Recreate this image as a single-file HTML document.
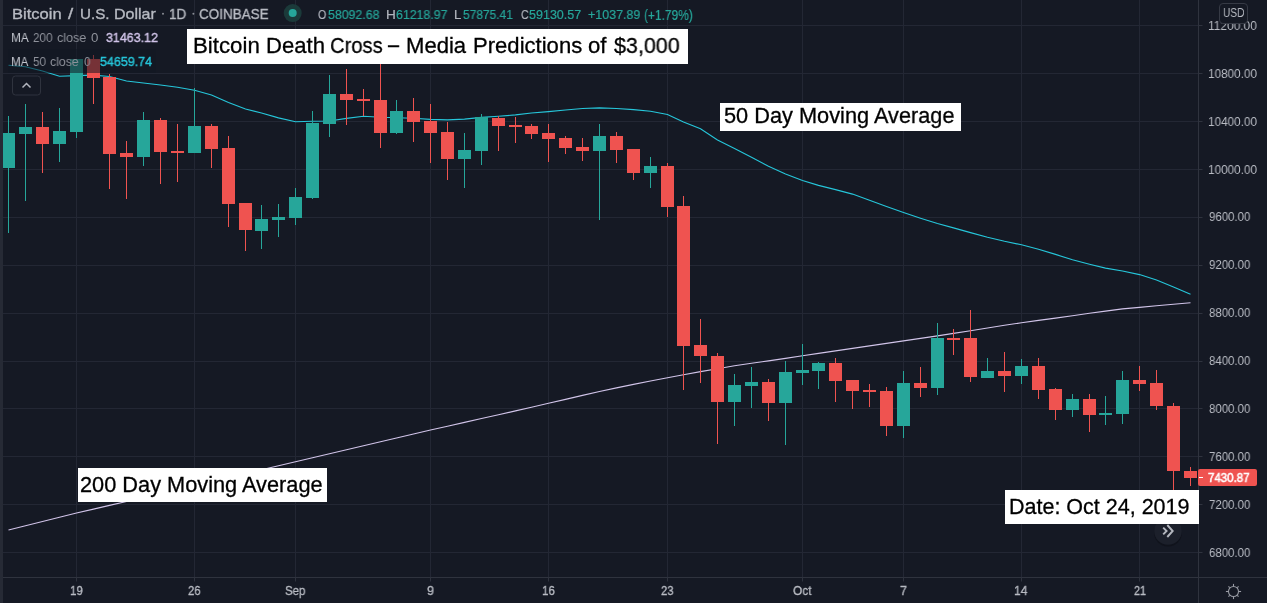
<!DOCTYPE html>
<html><head><meta charset="utf-8"><style>
html,body{margin:0;padding:0;}
body{width:1267px;height:603px;background:#151924;overflow:hidden;position:relative;font-family:"Liberation Sans",sans-serif;}
svg{position:absolute;left:0;top:0;}
.pl{position:absolute;left:1208px;font-size:12px;line-height:14px;color:#b2b5be;white-space:nowrap;}
.tl{position:absolute;top:584px;width:40px;text-align:center;font-size:12px;line-height:14px;color:#b2b5be;}
.leg{position:absolute;left:8px;white-space:nowrap;}
.legbg{position:absolute;background:rgba(19,23,34,0.55);}
.ann{position:absolute;background:#fff;color:#000;white-space:nowrap;}
.ann span{position:absolute;}
.tk{position:absolute;white-space:nowrap;transform-origin:0 0;will-change:transform;}
</style></head><body>
<svg width="1267" height="603" viewBox="0 0 1267 603">
<line x1="3" y1="25.5" x2="1198.5" y2="25.5" stroke="#232734" stroke-width="1"/>
<line x1="3" y1="73.5" x2="1198.5" y2="73.5" stroke="#232734" stroke-width="1"/>
<line x1="3" y1="121.5" x2="1198.5" y2="121.5" stroke="#232734" stroke-width="1"/>
<line x1="3" y1="169.5" x2="1198.5" y2="169.5" stroke="#232734" stroke-width="1"/>
<line x1="3" y1="217.5" x2="1198.5" y2="217.5" stroke="#232734" stroke-width="1"/>
<line x1="3" y1="265.5" x2="1198.5" y2="265.5" stroke="#232734" stroke-width="1"/>
<line x1="3" y1="313.5" x2="1198.5" y2="313.5" stroke="#232734" stroke-width="1"/>
<line x1="3" y1="361.5" x2="1198.5" y2="361.5" stroke="#232734" stroke-width="1"/>
<line x1="3" y1="408.5" x2="1198.5" y2="408.5" stroke="#232734" stroke-width="1"/>
<line x1="3" y1="456.5" x2="1198.5" y2="456.5" stroke="#232734" stroke-width="1"/>
<line x1="3" y1="504.5" x2="1198.5" y2="504.5" stroke="#232734" stroke-width="1"/>
<line x1="3" y1="552.5" x2="1198.5" y2="552.5" stroke="#232734" stroke-width="1"/>
<line x1="76.5" y1="0" x2="76.5" y2="577.5" stroke="#232734" stroke-width="1"/>
<line x1="194.5" y1="0" x2="194.5" y2="577.5" stroke="#232734" stroke-width="1"/>
<line x1="295.5" y1="0" x2="295.5" y2="577.5" stroke="#232734" stroke-width="1"/>
<line x1="430.5" y1="0" x2="430.5" y2="577.5" stroke="#232734" stroke-width="1"/>
<line x1="548.5" y1="0" x2="548.5" y2="577.5" stroke="#232734" stroke-width="1"/>
<line x1="667.5" y1="0" x2="667.5" y2="577.5" stroke="#232734" stroke-width="1"/>
<line x1="802.5" y1="0" x2="802.5" y2="577.5" stroke="#232734" stroke-width="1"/>
<line x1="903.5" y1="0" x2="903.5" y2="577.5" stroke="#232734" stroke-width="1"/>
<line x1="1021.5" y1="0" x2="1021.5" y2="577.5" stroke="#232734" stroke-width="1"/>
<line x1="1139.5" y1="0" x2="1139.5" y2="577.5" stroke="#232734" stroke-width="1"/>
<polyline points="8.5,530.0 25.5,525.8 42.5,521.5 59.5,517.2 76.5,513.0 93.5,509.1 109.5,505.4 126.5,501.5 143.5,497.5 160.5,493.5 177.5,489.5 194.5,485.5 211.5,481.5 228.5,477.5 245.5,473.5 261.5,469.8 278.5,465.8 295.5,461.8 312.5,457.8 329.5,453.8 346.5,449.8 363.5,445.8 380.5,441.8 396.5,438.0 413.5,434.0 430.5,430.0 447.5,426.2 464.5,422.4 481.5,418.5 498.5,414.7 515.5,410.9 531.5,407.2 548.5,403.3 565.5,399.4 582.5,395.4 599.5,391.5 616.5,387.9 633.5,384.4 650.5,381.0 667.5,377.8 683.5,374.7 700.5,371.6 717.5,368.7 734.5,365.7 751.5,363.3 768.5,360.9 785.5,358.4 802.5,355.8 818.5,353.4 835.5,350.9 852.5,348.4 869.5,345.9 886.5,343.4 903.5,340.9 920.5,338.4 937.5,335.9 953.5,333.4 970.5,330.7 987.5,328.0 1004.5,325.3 1021.5,322.8 1038.5,320.4 1055.5,318.1 1072.5,315.7 1089.5,313.3 1105.5,311.1 1122.5,308.9 1139.5,307.4 1156.5,305.8 1173.5,304.3 1190.5,302.8" fill="none" stroke="#d1c4e9" stroke-width="1.1"/>
<polyline points="8.5,65.2 25.5,66.7 42.5,71.0 59.5,76.2 76.5,75.6 93.5,75.1 109.5,76.5 126.5,81.0 143.5,83.0 160.5,85.0 177.5,87.3 194.5,90.2 211.5,95.0 228.5,102.5 245.5,109.0 261.5,113.0 278.5,117.9 295.5,121.8 312.5,121.3 329.5,121.0 346.5,118.4 363.5,116.3 380.5,117.3 396.5,117.7 413.5,118.2 430.5,119.4 447.5,119.9 464.5,119.1 481.5,117.4 498.5,116.3 515.5,114.9 531.5,113.0 548.5,111.6 565.5,110.0 582.5,108.5 599.5,107.9 616.5,108.5 633.5,109.6 650.5,111.3 667.5,114.5 683.5,122.0 700.5,128.8 717.5,139.9 734.5,148.4 751.5,157.3 768.5,166.2 785.5,174.1 802.5,180.5 818.5,185.4 835.5,189.6 852.5,194.1 869.5,200.2 886.5,206.5 903.5,212.5 920.5,218.2 937.5,223.5 953.5,227.9 970.5,232.6 987.5,237.3 1004.5,241.3 1021.5,244.8 1038.5,249.3 1055.5,254.4 1072.5,259.7 1089.5,264.2 1105.5,268.1 1122.5,271.0 1139.5,274.6 1156.5,280.1 1173.5,287.0 1190.5,294.3" fill="none" stroke="#26c6da" stroke-width="1.1"/>
<rect x="8" y="116" width="1" height="117" fill="#26a69a"/>
<rect x="2" y="133" width="13" height="35" fill="#26a69a"/>
<rect x="25" y="104" width="1" height="97" fill="#26a69a"/>
<rect x="19" y="127" width="13" height="7" fill="#26a69a"/>
<rect x="42" y="112" width="1" height="61" fill="#ef5350"/>
<rect x="36" y="127" width="13" height="17" fill="#ef5350"/>
<rect x="59" y="108" width="1" height="54" fill="#26a69a"/>
<rect x="53" y="131" width="13" height="13" fill="#26a69a"/>
<rect x="76" y="59" width="1" height="79" fill="#26a69a"/>
<rect x="70" y="59" width="13" height="73" fill="#26a69a"/>
<rect x="93" y="55" width="1" height="49" fill="#ef5350"/>
<rect x="87" y="59" width="13" height="19" fill="#ef5350"/>
<rect x="109" y="74" width="1" height="115" fill="#ef5350"/>
<rect x="103" y="77" width="13" height="77" fill="#ef5350"/>
<rect x="126" y="141" width="1" height="58" fill="#ef5350"/>
<rect x="120" y="153" width="13" height="4" fill="#ef5350"/>
<rect x="143" y="112" width="1" height="54" fill="#26a69a"/>
<rect x="137" y="120" width="13" height="37" fill="#26a69a"/>
<rect x="160" y="118" width="1" height="66" fill="#ef5350"/>
<rect x="154" y="120" width="13" height="32" fill="#ef5350"/>
<rect x="177" y="124" width="1" height="58" fill="#ef5350"/>
<rect x="171" y="151" width="13" height="2" fill="#ef5350"/>
<rect x="194" y="88" width="1" height="65" fill="#26a69a"/>
<rect x="188" y="126" width="13" height="27" fill="#26a69a"/>
<rect x="211" y="124" width="1" height="44" fill="#ef5350"/>
<rect x="205" y="126" width="13" height="23" fill="#ef5350"/>
<rect x="228" y="136" width="1" height="91" fill="#ef5350"/>
<rect x="222" y="148" width="13" height="56" fill="#ef5350"/>
<rect x="245" y="203" width="1" height="48" fill="#ef5350"/>
<rect x="239" y="203" width="13" height="27" fill="#ef5350"/>
<rect x="261" y="205" width="1" height="44" fill="#26a69a"/>
<rect x="255" y="219" width="13" height="12" fill="#26a69a"/>
<rect x="278" y="204" width="1" height="33" fill="#26a69a"/>
<rect x="272" y="217" width="13" height="3" fill="#26a69a"/>
<rect x="295" y="188" width="1" height="37" fill="#26a69a"/>
<rect x="289" y="197" width="13" height="21" fill="#26a69a"/>
<rect x="312" y="111" width="1" height="88" fill="#26a69a"/>
<rect x="306" y="123" width="13" height="75" fill="#26a69a"/>
<rect x="329" y="75" width="1" height="62" fill="#26a69a"/>
<rect x="323" y="94" width="13" height="30" fill="#26a69a"/>
<rect x="346" y="69" width="1" height="56" fill="#ef5350"/>
<rect x="340" y="94" width="13" height="6" fill="#ef5350"/>
<rect x="363" y="89" width="1" height="27" fill="#ef5350"/>
<rect x="357" y="99" width="13" height="2" fill="#ef5350"/>
<rect x="380" y="55" width="1" height="93" fill="#ef5350"/>
<rect x="374" y="100" width="13" height="33" fill="#ef5350"/>
<rect x="396" y="100" width="1" height="34" fill="#26a69a"/>
<rect x="390" y="111" width="13" height="22" fill="#26a69a"/>
<rect x="413" y="98" width="1" height="44" fill="#ef5350"/>
<rect x="407" y="111" width="13" height="11" fill="#ef5350"/>
<rect x="430" y="104" width="1" height="59" fill="#ef5350"/>
<rect x="424" y="121" width="13" height="12" fill="#ef5350"/>
<rect x="447" y="122" width="1" height="58" fill="#ef5350"/>
<rect x="441" y="132" width="13" height="27" fill="#ef5350"/>
<rect x="464" y="133" width="1" height="55" fill="#26a69a"/>
<rect x="458" y="150" width="13" height="9" fill="#26a69a"/>
<rect x="481" y="114" width="1" height="51" fill="#26a69a"/>
<rect x="475" y="117" width="13" height="34" fill="#26a69a"/>
<rect x="498" y="116" width="1" height="35" fill="#ef5350"/>
<rect x="492" y="118" width="13" height="8" fill="#ef5350"/>
<rect x="515" y="117" width="1" height="26" fill="#ef5350"/>
<rect x="509" y="125" width="13" height="2" fill="#ef5350"/>
<rect x="531" y="124" width="1" height="15" fill="#ef5350"/>
<rect x="525" y="126" width="13" height="8" fill="#ef5350"/>
<rect x="548" y="124" width="1" height="38" fill="#ef5350"/>
<rect x="542" y="133" width="13" height="6" fill="#ef5350"/>
<rect x="565" y="136" width="1" height="18" fill="#ef5350"/>
<rect x="559" y="138" width="13" height="10" fill="#ef5350"/>
<rect x="582" y="138" width="1" height="23" fill="#ef5350"/>
<rect x="576" y="147" width="13" height="4" fill="#ef5350"/>
<rect x="599" y="124" width="1" height="96" fill="#26a69a"/>
<rect x="593" y="136" width="13" height="15" fill="#26a69a"/>
<rect x="616" y="132" width="1" height="31" fill="#ef5350"/>
<rect x="610" y="136" width="13" height="14" fill="#ef5350"/>
<rect x="633" y="149" width="1" height="31" fill="#ef5350"/>
<rect x="627" y="149" width="13" height="24" fill="#ef5350"/>
<rect x="650" y="157" width="1" height="31" fill="#26a69a"/>
<rect x="644" y="166" width="13" height="7" fill="#26a69a"/>
<rect x="667" y="163" width="1" height="54" fill="#ef5350"/>
<rect x="661" y="166" width="13" height="41" fill="#ef5350"/>
<rect x="683" y="196" width="1" height="194" fill="#ef5350"/>
<rect x="677" y="206" width="13" height="140" fill="#ef5350"/>
<rect x="700" y="319" width="1" height="64" fill="#ef5350"/>
<rect x="694" y="345" width="13" height="11" fill="#ef5350"/>
<rect x="717" y="353" width="1" height="91" fill="#ef5350"/>
<rect x="711" y="356" width="13" height="46" fill="#ef5350"/>
<rect x="734" y="374" width="1" height="52" fill="#26a69a"/>
<rect x="728" y="385" width="13" height="17" fill="#26a69a"/>
<rect x="751" y="367" width="1" height="41" fill="#26a69a"/>
<rect x="745" y="382" width="13" height="4" fill="#26a69a"/>
<rect x="768" y="379" width="1" height="42" fill="#ef5350"/>
<rect x="762" y="382" width="13" height="21" fill="#ef5350"/>
<rect x="785" y="361" width="1" height="84" fill="#26a69a"/>
<rect x="779" y="372" width="13" height="31" fill="#26a69a"/>
<rect x="802" y="344" width="1" height="41" fill="#26a69a"/>
<rect x="796" y="370" width="13" height="3" fill="#26a69a"/>
<rect x="818" y="362" width="1" height="27" fill="#26a69a"/>
<rect x="812" y="363" width="13" height="8" fill="#26a69a"/>
<rect x="835" y="358" width="1" height="44" fill="#ef5350"/>
<rect x="829" y="363" width="13" height="18" fill="#ef5350"/>
<rect x="852" y="380" width="1" height="29" fill="#ef5350"/>
<rect x="846" y="380" width="13" height="11" fill="#ef5350"/>
<rect x="869" y="384" width="1" height="23" fill="#ef5350"/>
<rect x="863" y="390" width="13" height="2" fill="#ef5350"/>
<rect x="886" y="387" width="1" height="49" fill="#ef5350"/>
<rect x="880" y="391" width="13" height="35" fill="#ef5350"/>
<rect x="903" y="371" width="1" height="67" fill="#26a69a"/>
<rect x="897" y="383" width="13" height="43" fill="#26a69a"/>
<rect x="920" y="367" width="1" height="30" fill="#ef5350"/>
<rect x="914" y="383" width="13" height="5" fill="#ef5350"/>
<rect x="937" y="323" width="1" height="72" fill="#26a69a"/>
<rect x="931" y="338" width="13" height="50" fill="#26a69a"/>
<rect x="953" y="329" width="1" height="26" fill="#ef5350"/>
<rect x="947" y="338" width="13" height="2" fill="#ef5350"/>
<rect x="970" y="310" width="1" height="72" fill="#ef5350"/>
<rect x="964" y="338" width="13" height="39" fill="#ef5350"/>
<rect x="987" y="358" width="1" height="20" fill="#26a69a"/>
<rect x="981" y="371" width="13" height="7" fill="#26a69a"/>
<rect x="1004" y="352" width="1" height="40" fill="#ef5350"/>
<rect x="998" y="371" width="13" height="5" fill="#ef5350"/>
<rect x="1021" y="359" width="1" height="25" fill="#26a69a"/>
<rect x="1015" y="366" width="13" height="10" fill="#26a69a"/>
<rect x="1038" y="358" width="1" height="41" fill="#ef5350"/>
<rect x="1032" y="366" width="13" height="24" fill="#ef5350"/>
<rect x="1055" y="388" width="1" height="32" fill="#ef5350"/>
<rect x="1049" y="389" width="13" height="21" fill="#ef5350"/>
<rect x="1072" y="394" width="1" height="23" fill="#26a69a"/>
<rect x="1066" y="399" width="13" height="11" fill="#26a69a"/>
<rect x="1089" y="394" width="1" height="38" fill="#ef5350"/>
<rect x="1083" y="399" width="13" height="16" fill="#ef5350"/>
<rect x="1105" y="396" width="1" height="29" fill="#26a69a"/>
<rect x="1099" y="413" width="13" height="2" fill="#26a69a"/>
<rect x="1122" y="371" width="1" height="53" fill="#26a69a"/>
<rect x="1116" y="380" width="13" height="34" fill="#26a69a"/>
<rect x="1139" y="366" width="1" height="25" fill="#ef5350"/>
<rect x="1133" y="380" width="13" height="4" fill="#ef5350"/>
<rect x="1156" y="370" width="1" height="40" fill="#ef5350"/>
<rect x="1150" y="383" width="13" height="23" fill="#ef5350"/>
<rect x="1173" y="403" width="1" height="89" fill="#ef5350"/>
<rect x="1167" y="406" width="13" height="65" fill="#ef5350"/>
<rect x="1190" y="467" width="1" height="19" fill="#ef5350"/>
<rect x="1184" y="471" width="13" height="7" fill="#ef5350"/>
<rect x="0" y="0" width="3" height="603" fill="#262a35"/>
<line x1="1198.5" y1="0" x2="1198.5" y2="603" stroke="#2f333e" stroke-width="1"/>
<line x1="3" y1="577.5" x2="1267" y2="577.5" stroke="#2f333e" stroke-width="1"/>
<line x1="1198.5" y1="25.5" x2="1202.5" y2="25.5" stroke="#2f333e" stroke-width="1"/>
<line x1="1198.5" y1="73.5" x2="1202.5" y2="73.5" stroke="#2f333e" stroke-width="1"/>
<line x1="1198.5" y1="121.5" x2="1202.5" y2="121.5" stroke="#2f333e" stroke-width="1"/>
<line x1="1198.5" y1="169.5" x2="1202.5" y2="169.5" stroke="#2f333e" stroke-width="1"/>
<line x1="1198.5" y1="217.5" x2="1202.5" y2="217.5" stroke="#2f333e" stroke-width="1"/>
<line x1="1198.5" y1="265.5" x2="1202.5" y2="265.5" stroke="#2f333e" stroke-width="1"/>
<line x1="1198.5" y1="313.5" x2="1202.5" y2="313.5" stroke="#2f333e" stroke-width="1"/>
<line x1="1198.5" y1="361.5" x2="1202.5" y2="361.5" stroke="#2f333e" stroke-width="1"/>
<line x1="1198.5" y1="408.5" x2="1202.5" y2="408.5" stroke="#2f333e" stroke-width="1"/>
<line x1="1198.5" y1="456.5" x2="1202.5" y2="456.5" stroke="#2f333e" stroke-width="1"/>
<line x1="1198.5" y1="504.5" x2="1202.5" y2="504.5" stroke="#2f333e" stroke-width="1"/>
<line x1="1198.5" y1="552.5" x2="1202.5" y2="552.5" stroke="#2f333e" stroke-width="1"/>
<line x1="76.5" y1="577.5" x2="76.5" y2="581.5" stroke="#2f333e" stroke-width="1"/>
<line x1="194.5" y1="577.5" x2="194.5" y2="581.5" stroke="#2f333e" stroke-width="1"/>
<line x1="295.5" y1="577.5" x2="295.5" y2="581.5" stroke="#2f333e" stroke-width="1"/>
<line x1="430.5" y1="577.5" x2="430.5" y2="581.5" stroke="#2f333e" stroke-width="1"/>
<line x1="548.5" y1="577.5" x2="548.5" y2="581.5" stroke="#2f333e" stroke-width="1"/>
<line x1="667.5" y1="577.5" x2="667.5" y2="581.5" stroke="#2f333e" stroke-width="1"/>
<line x1="802.5" y1="577.5" x2="802.5" y2="581.5" stroke="#2f333e" stroke-width="1"/>
<line x1="903.5" y1="577.5" x2="903.5" y2="581.5" stroke="#2f333e" stroke-width="1"/>
<line x1="1021.5" y1="577.5" x2="1021.5" y2="581.5" stroke="#2f333e" stroke-width="1"/>
<line x1="1139.5" y1="577.5" x2="1139.5" y2="581.5" stroke="#2f333e" stroke-width="1"/>
<rect x="1198" y="469" width="59" height="17" rx="2" fill="#ef5350"/>
<line x1="1199" y1="477.5" x2="1203" y2="477.5" stroke="#fff" stroke-width="1"/>
<circle cx="1168" cy="532.5" r="14" fill="#0f121a" opacity="0.8"/>
<circle cx="1168" cy="531" r="13.8" fill="#1c202b"/>
<path d="M1163.2 527.6 L1166.6 531 L1163.2 534.4" fill="none" stroke="#b4b7bf" stroke-width="1.9"/>
<path d="M1167.3 525 L1172.7 531 L1167.3 537" fill="none" stroke="#b4b7bf" stroke-width="1.9"/>
<circle cx="1233.5" cy="591.5" r="5.0" fill="none" stroke="#9a9da6" stroke-width="1.05"/>
<line x1="1238.90" y1="591.50" x2="1241.10" y2="591.50" stroke="#9a9da6" stroke-width="1.1"/>
<line x1="1237.32" y1="595.32" x2="1238.52" y2="596.52" stroke="#9a9da6" stroke-width="1.1"/>
<line x1="1233.50" y1="596.90" x2="1233.50" y2="599.10" stroke="#9a9da6" stroke-width="1.1"/>
<line x1="1229.68" y1="595.32" x2="1228.48" y2="596.52" stroke="#9a9da6" stroke-width="1.1"/>
<line x1="1228.10" y1="591.50" x2="1225.90" y2="591.50" stroke="#9a9da6" stroke-width="1.1"/>
<line x1="1229.68" y1="587.68" x2="1228.48" y2="586.48" stroke="#9a9da6" stroke-width="1.1"/>
<line x1="1233.50" y1="586.10" x2="1233.50" y2="583.90" stroke="#9a9da6" stroke-width="1.1"/>
<line x1="1237.32" y1="587.68" x2="1238.52" y2="586.48" stroke="#9a9da6" stroke-width="1.1"/>
<rect x="12.5" y="76" width="28" height="19" rx="3" fill="none" stroke="#2f333e" stroke-width="1"/>
<path d="M22.5 87.5 L26.5 83.5 L30.5 87.5" fill="none" stroke="#b2b5be" stroke-width="1.5"/>
<circle cx="292.7" cy="13.1" r="9" fill="#1b3a3a"/>
<circle cx="163" cy="13.8" r="1" fill="#8a8d96"/>
<circle cx="193.4" cy="13.8" r="1" fill="#8a8d96"/>
<circle cx="292.7" cy="13.1" r="4" fill="#26a69a"/>
</svg>
<div class="legbg" style="left:8px;top:49px;width:148px;height:24px"></div>
<div class="ann" style="left:187px;top:29px;width:501px;height:35px"></div>
<div class="ann" style="left:720px;top:103px;width:241px;height:28px"></div>
<div class="ann" style="left:78px;top:468px;width:249px;height:34px"></div>
<div class="ann" style="left:1005px;top:490px;width:194px;height:34px"></div>
<div class="tk" style="left:11.50px;top:5.60px;font-size:15.0px;line-height:15.0px;font-weight:400;color:#b7bac2;transform:scaleX(1.1023);-webkit-text-stroke:0.35px #b7bac2;">Bitcoin</div><div class="tk" style="left:67.70px;top:5.60px;font-size:15.0px;line-height:15.0px;font-weight:400;color:#b7bac2;transform:scaleX(1.2400);-webkit-text-stroke:0.35px #b7bac2;">/</div><div class="tk" style="left:79.69px;top:5.60px;font-size:15.0px;line-height:15.0px;font-weight:400;color:#b7bac2;transform:scaleX(1.0111);-webkit-text-stroke:0.35px #b7bac2;">U.S.</div><div class="tk" style="left:113.73px;top:5.60px;font-size:15.0px;line-height:15.0px;font-weight:400;color:#b7bac2;transform:scaleX(1.0684);-webkit-text-stroke:0.35px #b7bac2;">Dollar</div><div class="tk" style="left:169.39px;top:5.60px;font-size:15.0px;line-height:15.0px;font-weight:400;color:#b7bac2;transform:scaleX(0.9056);-webkit-text-stroke:0.35px #b7bac2;">1D</div><div class="tk" style="left:199.30px;top:5.60px;font-size:15.0px;line-height:15.0px;font-weight:400;color:#b7bac2;transform:scaleX(0.8987);-webkit-text-stroke:0.35px #b7bac2;">COINBASE</div><div class="tk" style="left:317.90px;top:9.20px;font-size:12.5px;line-height:12.5px;font-weight:400;color:#b2b5be;transform:scaleX(0.8400);-webkit-text-stroke:0.2px;">O</div><div class="tk" style="left:328.20px;top:9.20px;font-size:12.5px;line-height:12.5px;font-weight:400;color:#26a69a;transform:scaleX(0.9865);-webkit-text-stroke:0.2px;">58092.68</div><div class="tk" style="left:385.81px;top:9.20px;font-size:12.5px;line-height:12.5px;font-weight:400;color:#b2b5be;transform:scaleX(1.0857);-webkit-text-stroke:0.2px;">H</div><div class="tk" style="left:396.00px;top:9.20px;font-size:12.5px;line-height:12.5px;font-weight:400;color:#26a69a;transform:scaleX(0.9865);-webkit-text-stroke:0.2px;">61218.97</div><div class="tk" style="left:453.85px;top:9.20px;font-size:12.5px;line-height:12.5px;font-weight:400;color:#b2b5be;transform:scaleX(1.0500);-webkit-text-stroke:0.2px;">L</div><div class="tk" style="left:462.60px;top:9.20px;font-size:12.5px;line-height:12.5px;font-weight:400;color:#26a69a;transform:scaleX(0.9558);-webkit-text-stroke:0.2px;">57875.41</div><div class="tk" style="left:520.50px;top:9.20px;font-size:12.5px;line-height:12.5px;font-weight:400;color:#b2b5be;transform:scaleX(0.8444);-webkit-text-stroke:0.2px;">C</div><div class="tk" style="left:529.20px;top:9.20px;font-size:12.5px;line-height:12.5px;font-weight:400;color:#26a69a;transform:scaleX(1.0019);-webkit-text-stroke:0.2px;">59130.57</div><div class="tk" style="left:587.90px;top:9.20px;font-size:12.5px;line-height:12.5px;font-weight:400;color:#26a69a;transform:scaleX(0.9962);-webkit-text-stroke:0.2px;">+1037.89</div><div class="tk" style="left:644.12px;top:6.60px;font-size:15.25px;line-height:15.25px;font-weight:400;color:#26a69a;transform:scaleX(0.7820);-webkit-text-stroke:0.2px;">(+1.79%)</div><div class="tk" style="left:10.91px;top:30.90px;font-size:13.25px;line-height:13.25px;font-weight:400;color:#c3c6ce;transform:scaleX(0.8947);">MA</div><div class="tk" style="left:33.30px;top:30.90px;font-size:13.25px;line-height:13.25px;font-weight:400;color:#8f929b;transform:scaleX(0.8864);">200</div><div class="tk" style="left:57.20px;top:30.60px;font-size:13.5px;line-height:13.5px;font-weight:400;color:#8f929b;transform:scaleX(0.9290);">close</div><div class="tk" style="left:90.70px;top:30.90px;font-size:13.25px;line-height:13.25px;font-weight:400;color:#8f929b;transform:scaleX(0.9571);">0</div><div class="tk" style="left:105.90px;top:30.90px;font-size:13.25px;line-height:13.25px;font-weight:400;color:#d1c4e9;transform:scaleX(0.9400);-webkit-text-stroke:0.4px #d1c4e9;">31463.12</div><div class="tk" style="left:10.91px;top:54.90px;font-size:13.0px;line-height:13.0px;font-weight:400;color:#c3c6ce;transform:scaleX(0.8947);">MA</div><div class="tk" style="left:33.30px;top:54.90px;font-size:13.0px;line-height:13.0px;font-weight:400;color:#8f929b;transform:scaleX(0.9000);">50</div><div class="tk" style="left:50.30px;top:54.60px;font-size:13.25px;line-height:13.25px;font-weight:400;color:#8f929b;transform:scaleX(0.9258);">close</div><div class="tk" style="left:83.80px;top:54.90px;font-size:13.0px;line-height:13.0px;font-weight:400;color:#8f929b;transform:scaleX(0.9000);">0</div><div class="tk" style="left:99.50px;top:54.90px;font-size:13.0px;line-height:13.0px;font-weight:400;color:#26c6da;transform:scaleX(0.9593);-webkit-text-stroke:0.4px #26c6da;">54659.74</div><div class="tk" style="left:1207.56px;top:68.35px;font-size:12.5px;line-height:12.5px;font-weight:400;color:#b9bcc4;transform:scaleX(0.9392);">10800.00</div><div class="tk" style="left:1207.56px;top:116.35px;font-size:12.5px;line-height:12.5px;font-weight:400;color:#b9bcc4;transform:scaleX(0.9392);">10400.00</div><div class="tk" style="left:1207.56px;top:164.20px;font-size:12.5px;line-height:12.5px;font-weight:400;color:#b9bcc4;transform:scaleX(0.9392);">10000.00</div><div class="tk" style="left:1208.50px;top:211.15px;font-size:12.5px;line-height:12.5px;font-weight:400;color:#b9bcc4;transform:scaleX(0.9156);">9600.00</div><div class="tk" style="left:1208.50px;top:259.35px;font-size:12.5px;line-height:12.5px;font-weight:400;color:#b9bcc4;transform:scaleX(0.9156);">9200.00</div><div class="tk" style="left:1208.50px;top:307.00px;font-size:12.5px;line-height:12.5px;font-weight:400;color:#b9bcc4;transform:scaleX(0.9156);">8800.00</div><div class="tk" style="left:1208.50px;top:355.05px;font-size:12.5px;line-height:12.5px;font-weight:400;color:#b9bcc4;transform:scaleX(0.9156);">8400.00</div><div class="tk" style="left:1208.50px;top:403.20px;font-size:12.5px;line-height:12.5px;font-weight:400;color:#b9bcc4;transform:scaleX(0.9156);">8000.00</div><div class="tk" style="left:1208.50px;top:451.25px;font-size:12.5px;line-height:12.5px;font-weight:400;color:#b9bcc4;transform:scaleX(0.9156);">7600.00</div><div class="tk" style="left:1208.50px;top:499.25px;font-size:12.5px;line-height:12.5px;font-weight:400;color:#b9bcc4;transform:scaleX(0.9156);">7200.00</div><div class="tk" style="left:1208.50px;top:547.15px;font-size:12.5px;line-height:12.5px;font-weight:400;color:#b9bcc4;transform:scaleX(0.9156);">6800.00</div><div class="tk" style="left:1207.95px;top:20.35px;font-size:12.5px;line-height:12.5px;font-weight:400;color:#b9bcc4;transform:scaleX(0.9540);">11200.00</div><div class="tk" style="left:1208.30px;top:472.40px;font-size:12.0px;line-height:12.0px;font-weight:400;color:#ffffff;transform:scaleX(0.9581);-webkit-text-stroke:0.55px #fff;">7430.87</div><div class="tk" style="left:1222.93px;top:6.00px;font-size:13.25px;line-height:13.25px;font-weight:400;color:#b9bcc4;transform:scaleX(0.7667);z-index:6;">USD</div><div class="tk" style="left:69.64px;top:583.80px;font-size:13.5px;line-height:13.5px;font-weight:400;color:#b9bcc4;transform:scaleX(0.8571);-webkit-text-stroke:0.35px #b9bcc4;">19</div><div class="tk" style="left:188.25px;top:583.80px;font-size:13.5px;line-height:13.5px;font-weight:400;color:#b9bcc4;transform:scaleX(0.8333);-webkit-text-stroke:0.35px #b9bcc4;">26</div><div class="tk" style="left:284.90px;top:583.80px;font-size:13.5px;line-height:13.5px;font-weight:400;color:#b9bcc4;transform:scaleX(0.8478);-webkit-text-stroke:0.35px #b9bcc4;">Sep</div><div class="tk" style="left:427.25px;top:583.80px;font-size:13.5px;line-height:13.5px;font-weight:400;color:#b9bcc4;transform:scaleX(0.9286);-webkit-text-stroke:0.35px #b9bcc4;">9</div><div class="tk" style="left:541.64px;top:583.80px;font-size:13.5px;line-height:13.5px;font-weight:400;color:#b9bcc4;transform:scaleX(0.8571);-webkit-text-stroke:0.35px #b9bcc4;">16</div><div class="tk" style="left:661.25px;top:583.80px;font-size:13.5px;line-height:13.5px;font-weight:400;color:#b9bcc4;transform:scaleX(0.8333);-webkit-text-stroke:0.35px #b9bcc4;">23</div><div class="tk" style="left:793.25px;top:583.80px;font-size:13.5px;line-height:13.5px;font-weight:400;color:#b9bcc4;transform:scaleX(0.8810);-webkit-text-stroke:0.35px #b9bcc4;">Oct</div><div class="tk" style="left:900.25px;top:583.80px;font-size:13.5px;line-height:13.5px;font-weight:400;color:#b9bcc4;transform:scaleX(0.9286);-webkit-text-stroke:0.35px #b9bcc4;">7</div><div class="tk" style="left:1014.36px;top:583.80px;font-size:13.5px;line-height:13.5px;font-weight:400;color:#b9bcc4;transform:scaleX(0.8929);-webkit-text-stroke:0.35px #b9bcc4;">14</div><div class="tk" style="left:1133.50px;top:583.80px;font-size:13.5px;line-height:13.5px;font-weight:400;color:#b9bcc4;transform:scaleX(0.8000);-webkit-text-stroke:0.35px #b9bcc4;">21</div><div class="tk" style="left:193.48px;top:35.00px;font-size:21.75px;line-height:21.75px;font-weight:400;color:#000;transform:scaleX(1.0238);-webkit-text-stroke:0.3px #000;">Bitcoin</div><div class="tk" style="left:265.88px;top:35.00px;font-size:21.75px;line-height:21.75px;font-weight:400;color:#000;transform:scaleX(1.0161);-webkit-text-stroke:0.3px #000;">Death</div><div class="tk" style="left:329.57px;top:35.00px;font-size:21.75px;line-height:21.75px;font-weight:400;color:#000;transform:scaleX(0.9268);-webkit-text-stroke:0.3px #000;">Cross</div><div class="tk" style="left:388.30px;top:33.50px;font-size:21.75px;line-height:21.75px;font-weight:400;color:#000;transform:scaleX(0.9077);-webkit-text-stroke:0.3px #000;">–</div><div class="tk" style="left:405.88px;top:35.00px;font-size:21.75px;line-height:21.75px;font-weight:400;color:#000;transform:scaleX(1.0153);-webkit-text-stroke:0.3px #000;">Media</div><div class="tk" style="left:473.38px;top:35.00px;font-size:21.75px;line-height:21.75px;font-weight:400;color:#000;transform:scaleX(1.0151);-webkit-text-stroke:0.3px #000;">Predictions</div><div class="tk" style="left:587.78px;top:35.00px;font-size:21.75px;line-height:21.75px;font-weight:400;color:#000;transform:scaleX(1.0167);-webkit-text-stroke:0.3px #000;">of</div><div class="tk" style="left:614.00px;top:35.00px;font-size:21.75px;line-height:21.75px;font-weight:400;color:#000;transform:scaleX(0.9879);-webkit-text-stroke:0.3px #000;">$3,000</div><div class="tk" style="left:724.10px;top:105.00px;font-size:21.75px;line-height:21.75px;font-weight:400;color:#000;transform:scaleX(0.9996);-webkit-text-stroke:0.3px #000;">50 Day Moving Average</div><div class="tk" style="left:80.20px;top:474.00px;font-size:21.75px;line-height:21.75px;font-weight:400;color:#000;transform:scaleX(0.9992);-webkit-text-stroke:0.3px #000;">200 Day Moving Average</div><div class="tk" style="left:1008.90px;top:497.20px;font-size:21.5px;line-height:21.5px;font-weight:400;color:#000;transform:scaleX(1.0000);-webkit-text-stroke:0.3px #000;">Date: Oct 24, 2019</div>
<div style="position:absolute;z-index:5;left:1219px;top:3px;width:29px;height:21px;border:1px solid #363a45;border-radius:4px;box-sizing:border-box;background:#151924"></div>
</body></html>
